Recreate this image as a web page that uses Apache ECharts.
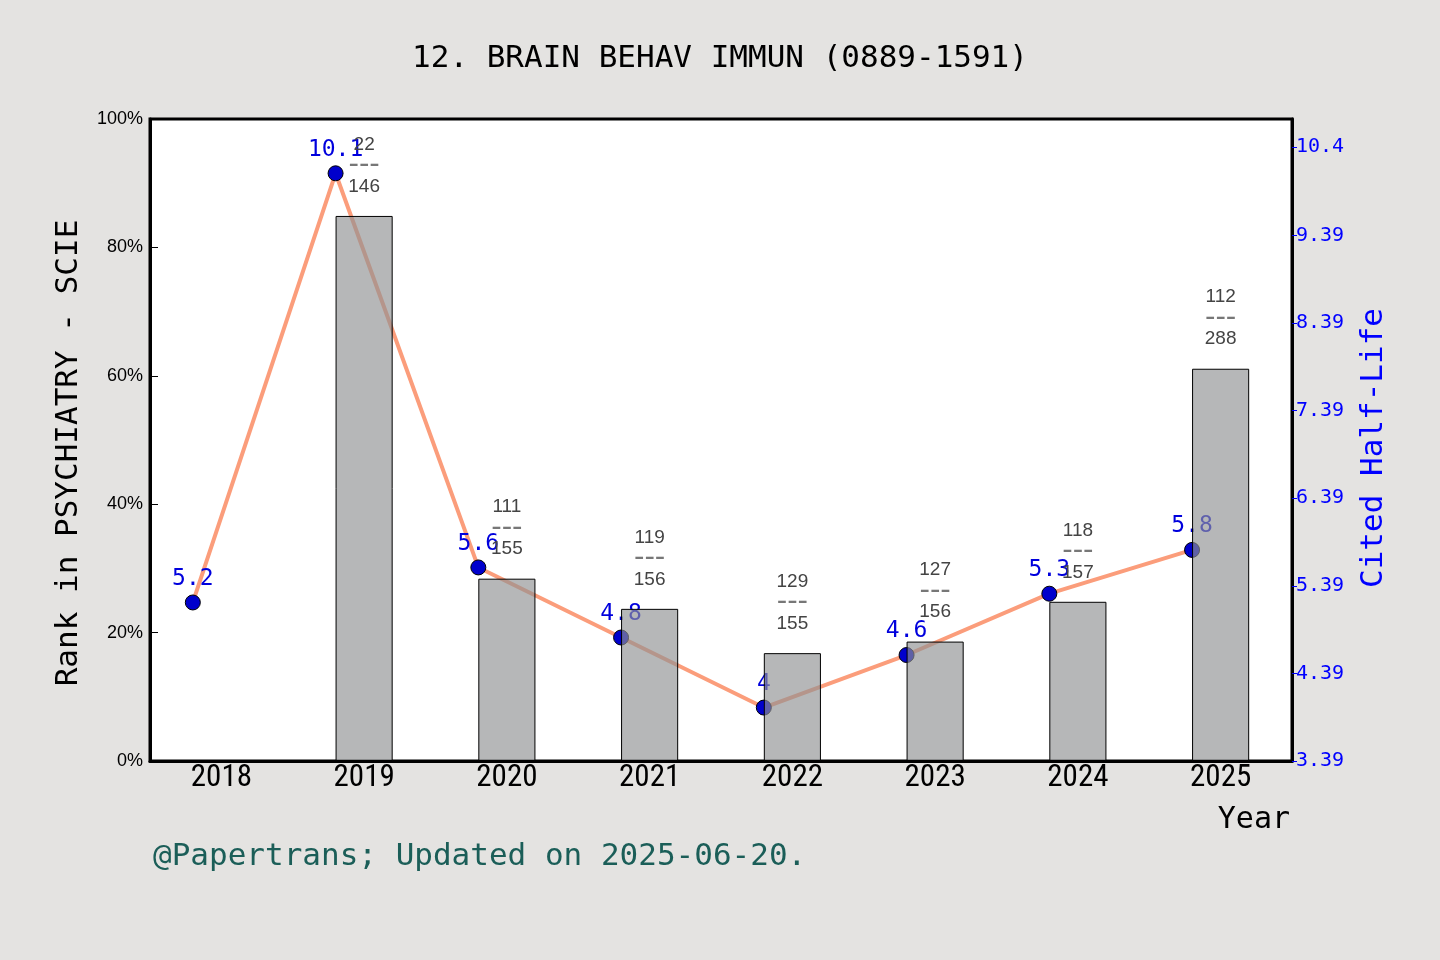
<!DOCTYPE html>
<html>
<head>
<meta charset="utf-8">
<script src="https://cdn.jsdelivr.net/npm/echarts@6/dist/echarts.min.js"></script>
<style>
  html, body { margin: 0; padding: 0; background: #e4e3e1; }
  #chartBox { width: 1440px; height: 960px; }
</style>
</head>
<body>
<div id="chartBox"></div>
<script>
// data
const years = ['2018', '2019', '2020', '2021', '2022', '2023', '2024', '2025'];
const rankPct = [null, 84.9, 28.4, 23.7, 16.8, 18.6, 24.8, 61.1];
const ranks = [null, 22, 111, 119, 129, 127, 118, 112];
const totals = [null, 146, 155, 156, 155, 156, 157, 288];
const halfLife = [5.2, 10.1, 5.6, 4.8, 4, 4.6, 5.3, 5.8];
const rightTicks = [3.39, 4.39, 5.39, 6.39, 7.39, 8.39, 9.39, 10.4];

const mono = 'DejaVu Sans Mono';
const narrow = "'Liberation Sans Narrow', 'Roboto Condensed', Roboto, sans-serif";

// line points sit a little left of the category centre
const linePoints = halfLife.map((v, i) => [i - 0.2, v]);
const barData = rankPct.map(v => v == null ? '-' : v);

const chart = echarts.init(document.getElementById('chartBox'));
chart.setOption({
  backgroundColor: '#e4e3e1',
  animation: false,
  title: [{
    text: '12. BRAIN BEHAV IMMUN (0889-1591)',
    left: 'center',
    top: 38,
    textStyle: { fontFamily: mono, fontSize: 31, fontWeight: 'normal', color: '#000' }
  }, {
    text: '@Papertrans; Updated on 2025-06-20.',
    left: 148,
    top: 836,
    textStyle: { fontFamily: mono, fontSize: 31, fontWeight: 'normal', color: '#1b5e58' }
  }],
  grid: {
    left: 150, right: 148, top: 119, bottom: 199,
    show: true, backgroundColor: '#fff', borderColor: '#000', borderWidth: 3,
    outerBoundsMode: 'none'
  },
  xAxis: [{
    type: 'category',
    data: years,
    boundaryGap: true,
    name: 'Year',
    nameLocation: 'end',
    nameGap: -2,
    nameTextStyle: { fontFamily: mono, fontSize: 30, color: '#000', align: 'right', verticalAlign: 'top', padding: [44, 0, 0, 0] },
    axisLine: { onZero: false, lineStyle: { color: '#000', width: 3 } },
    axisTick: { inside: true, length: 6, lineStyle: { color: '#000', width: 1 } },
    axisLabel: { fontFamily: narrow, fontSize: 31, color: '#000', margin: 2 },
    splitLine: { show: false }
  }, {
    type: 'value',
    min: -0.5,
    max: 7.5,
    show: false
  }],
  yAxis: [{
    type: 'value',
    min: 0,
    max: 100,
    interval: 20,
    name: 'Rank in PSYCHIATRY - SCIE',
    nameLocation: 'middle',
    nameRotate: 90,
    nameGap: 66,
    nameTextStyle: { fontFamily: mono, fontSize: 31, color: '#000', padding: [0, 26, 0, 0] },
    axisLine: { onZero: false, lineStyle: { color: '#000', width: 3 } },
    axisTick: { inside: true, length: 8, lineStyle: { color: '#000', width: 1 } },
    axisLabel: { formatter: '{value}%', fontFamily: 'Liberation Sans', fontSize: 18, color: '#000', margin: 7 },
    splitLine: { show: false }
  }, {
    type: 'value',
    position: 'right',
    min: 3.39,
    max: 10.72,
    name: 'Cited Half-Life',
    nameLocation: 'middle',
    nameRotate: 90,
    nameGap: 66,
    nameTextStyle: { fontFamily: mono, fontSize: 31, color: '#0000ff', padding: [0, 16, 0, 0] },
    axisLine: { show: true, onZero: false, lineStyle: { color: '#000', width: 3 } },
    axisTick: { show: true, customValues: rightTicks, length: 5, lineStyle: { color: '#0000ff', width: 1 } },
    axisLabel: {
      customValues: rightTicks,
      fontFamily: mono, fontSize: 20, color: '#0000ff', margin: 4,
      formatter: v => String(+(+v).toFixed(2))
    },
    splitLine: { show: false }
  }],
  series: [{
    name: 'Cited Half-Life',
    type: 'line',
    xAxisIndex: 1,
    yAxisIndex: 1,
    z: 2,
    data: linePoints,
    symbol: 'circle',
    symbolSize: 15,
    itemStyle: { color: '#0000cc', borderColor: '#000', borderWidth: 1 },
    lineStyle: { color: '#fb9d7b', width: 4 },
    label: {
      show: true,
      position: 'top',
      distance: 4,
      fontFamily: mono,
      fontSize: 23,
      color: '#0000dd',
      formatter: p => String(p.value[1])
    }
  }, {
    name: 'Rank',
    type: 'bar',
    xAxisIndex: 0,
    yAxisIndex: 0,
    z: 3,
    barWidth: '40%',
    data: barData,
    itemStyle: { color: 'rgba(144,145,147,0.66)', borderColor: '#000', borderWidth: 1 },
    label: {
      show: true,
      position: 'top',
      distance: 19,
      fontFamily: 'Liberation Sans',
      fontSize: 19,
      lineHeight: 21,
      color: '#444',
      formatter: p => ranks[p.dataIndex] == null ? '' :
        ranks[p.dataIndex] + '\n{d|---}\n' + totals[p.dataIndex],
      rich: {
        d: { fontFamily: 'DejaVu Sans', fontSize: 29, lineHeight: 21, color: '#777' }
      }
    }
  }]
});
</script>
</body>
</html>
